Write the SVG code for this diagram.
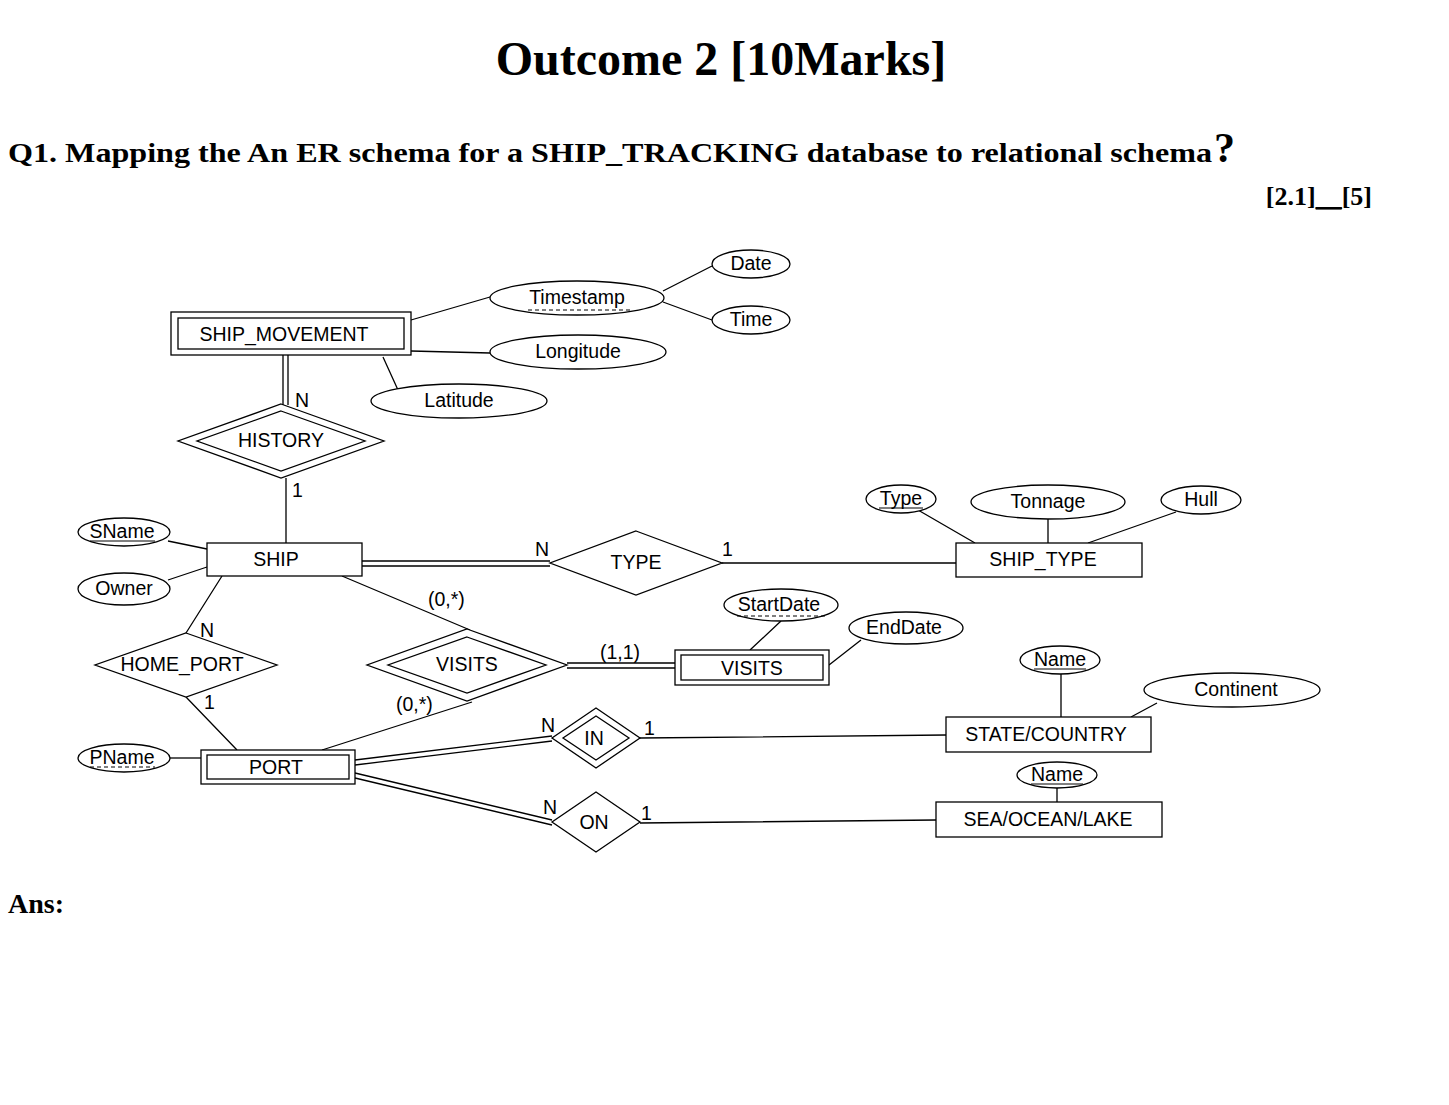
<svg xmlns="http://www.w3.org/2000/svg" width="1449" height="1105" viewBox="0 0 1449 1105">
<style>
.s{fill:none;stroke:#000;stroke-width:1.3}
.e{fill:#fff;stroke:#000;stroke-width:1.3}
text{font-family:"Liberation Sans",Arial,sans-serif;font-size:19.5px;fill:#000}
.c{text-anchor:middle}
.h{font-family:"Liberation Serif","Times New Roman",serif;font-weight:bold}
.u{stroke:#000;stroke-width:1}
.d{stroke:#000;stroke-width:1;stroke-dasharray:4,3}
</style>
<rect width="1449" height="1105" fill="#fff"/>
<text class="h c" x="721" y="75" style="font-size:48px">Outcome 2 [10Marks]</text>
<text class="h" x="8" y="162" style="font-size:28px" textLength="1204" lengthAdjust="spacingAndGlyphs">Q1.  Mapping the An ER schema for a SHIP_TRACKING database to relational schema</text>
<text class="h" x="1214" y="162" style="font-size:42px">?</text>
<text class="h" x="1372" y="205" text-anchor="end" style="font-size:26px">[2.1]<tspan text-decoration="underline">__</tspan>[5]</text>
<text class="h" x="8" y="913" style="font-size:28px">Ans:</text>

<g id="connectors">
<path class="s" d="M411,320L490,297M663,291L712,266M663,302L712,320M411,351L490,353M383,357L398,390"/>
<path class="s" d="M283,355V405M288,355V405M286,478V543"/>
<path class="s" d="M168,541L207,549M168,580L207,567"/>
<path class="s" d="M362,561L550,561M362,566L550,566M722,563H956"/>
<path class="s" d="M918,510L975,543M1048,519V543M1176,512L1088,543"/>
<path class="s" d="M222,576L186,633M186,697L237,750"/>
<path class="s" d="M342,576L470,630M322,750L472,702"/>
<path class="s" d="M567,663H675M567,668H675M781,621L750,650M861,640L829,665"/>
<path class="s" d="M170,758H201"/>
<path class="s" d="M355,760L552,736M355,765L552,741M640,738L946,735"/>
<path class="s" d="M1061,674V717M1157,703L1131,717"/>
<path class="s" d="M355,773L552,820M355,778L552,825M640,823L936,820M1057,788V802"/>
</g>

<g id="ship_movement"><rect class="e" x="171" y="312" width="240" height="43"/><rect class="s" x="178" y="318" width="226" height="31"/><text class="c" x="284" y="341">SHIP_MOVEMENT</text></g>
<g id="timestamp"><ellipse class="e" cx="577" cy="298" rx="87" ry="17"/><text class="c" x="577" y="304">Timestamp</text><line class="d" x1="528" y1="310" x2="630" y2="310"/></g>
<g id="date"><ellipse class="e" cx="751" cy="264" rx="39" ry="14"/><text class="c" x="751" y="270">Date</text></g>
<g id="time"><ellipse class="e" cx="751" cy="320" rx="39" ry="14"/><text class="c" x="751" y="326">Time</text></g>
<g id="longitude"><ellipse class="e" cx="578" cy="352" rx="88" ry="17"/><text class="c" x="578" y="358">Longitude</text></g>
<g id="latitude"><ellipse class="e" cx="459" cy="401" rx="88" ry="17"/><text class="c" x="459" y="407">Latitude</text></g>
<g id="history"><polygon class="e" points="281,404 384,441 281,478 178,441"/><polygon class="s" points="281,411 365,441 281,471 197,441"/><text class="c" x="281" y="447">HISTORY</text></g>
<text x="295" y="407">N</text><text x="292" y="497">1</text>

<g id="ship"><rect class="e" x="207" y="543" width="155" height="33"/><text class="c" x="276" y="566">SHIP</text></g>
<g id="sname"><ellipse class="e" cx="124" cy="532" rx="46" ry="14"/><text class="c" x="122" y="538">SName</text><line class="u" x1="90" y1="541" x2="155" y2="541"/></g>
<g id="owner"><ellipse class="e" cx="124" cy="589" rx="46" ry="16"/><text class="c" x="124" y="595">Owner</text></g>
<g id="type_rel"><polygon class="e" points="636,531 722,563 636,595 550,563"/><text class="c" x="636" y="569">TYPE</text></g>
<text x="535" y="556">N</text><text x="722" y="556">1</text>
<g id="ship_type"><rect class="e" x="956" y="543" width="186" height="34"/><text class="c" x="1043" y="566">SHIP_TYPE</text></g>
<g id="type_attr"><ellipse class="e" cx="901" cy="499" rx="35" ry="14"/><text class="c" x="901" y="505">Type</text><line class="u" x1="879" y1="508" x2="923" y2="508"/></g>
<g id="tonnage"><ellipse class="e" cx="1048" cy="502" rx="77" ry="17"/><text class="c" x="1048" y="508">Tonnage</text></g>
<g id="hull"><ellipse class="e" cx="1201" cy="500" rx="40" ry="14"/><text class="c" x="1201" y="506">Hull</text></g>

<g id="home_port"><polygon class="e" points="186,633 277,665 186,697 95,665"/><text class="c" x="182" y="671">HOME_PORT</text></g>
<text x="200" y="637">N</text><text x="204" y="709">1</text>
<g id="visits_rel"><polygon class="e" points="467,629 567,665 467,701 367,665"/><polygon class="s" points="467,637 546,665 467,693 388,665"/><text class="c" x="467" y="671">VISITS</text></g>
<text x="428" y="606">(0,*)</text><text x="396" y="711">(0,*)</text><text x="600" y="659">(1,1)</text>
<g id="visits"><rect class="e" x="675" y="650" width="154" height="35"/><rect class="s" x="681" y="655" width="142" height="25"/><text class="c" x="752" y="675">VISITS</text></g>
<g id="startdate"><ellipse class="e" cx="781" cy="605" rx="57" ry="16"/><text class="c" x="779" y="611">StartDate</text><line class="d" x1="737" y1="616" x2="826" y2="616"/></g>
<g id="enddate"><ellipse class="e" cx="906" cy="628" rx="57" ry="16"/><text class="c" x="904" y="634">EndDate</text></g>

<g id="port"><rect class="e" x="201" y="750" width="154" height="34"/><rect class="s" x="207" y="755" width="142" height="24"/><text class="c" x="276" y="774">PORT</text></g>
<g id="pname"><ellipse class="e" cx="124" cy="758" rx="46" ry="14"/><text class="c" x="122" y="764">PName</text><line class="d" x1="90" y1="767" x2="155" y2="767"/></g>
<g id="in_rel"><polygon class="e" points="596,708 640,738 596,768 552,738"/><polygon class="s" points="596,716 629,738 596,760 563,738"/><text class="c" x="594" y="745">IN</text></g>
<text x="541" y="732">N</text><text x="644" y="735">1</text>
<g id="state_country"><rect class="e" x="946" y="717" width="205" height="35"/><text class="c" x="1046" y="741">STATE/COUNTRY</text></g>
<g id="name1"><ellipse class="e" cx="1060" cy="660" rx="40" ry="14"/><text class="c" x="1060" y="666">Name</text><line class="u" x1="1034" y1="669" x2="1086" y2="669"/></g>
<g id="continent"><ellipse class="e" cx="1232" cy="690" rx="88" ry="17"/><text class="c" x="1236" y="696">Continent</text></g>
<g id="on_rel"><polygon class="e" points="596,792 640,822 596,852 552,822"/><text class="c" x="594" y="829">ON</text></g>
<text x="543" y="814">N</text><text x="641" y="820">1</text>
<g id="sea"><rect class="e" x="936" y="802" width="226" height="35"/><text class="c" x="1048" y="826">SEA/OCEAN/LAKE</text></g>
<g id="name2"><ellipse class="e" cx="1057" cy="775" rx="40" ry="13"/><text class="c" x="1057" y="781">Name</text><line class="u" x1="1031" y1="784" x2="1083" y2="784"/></g>
</svg>
